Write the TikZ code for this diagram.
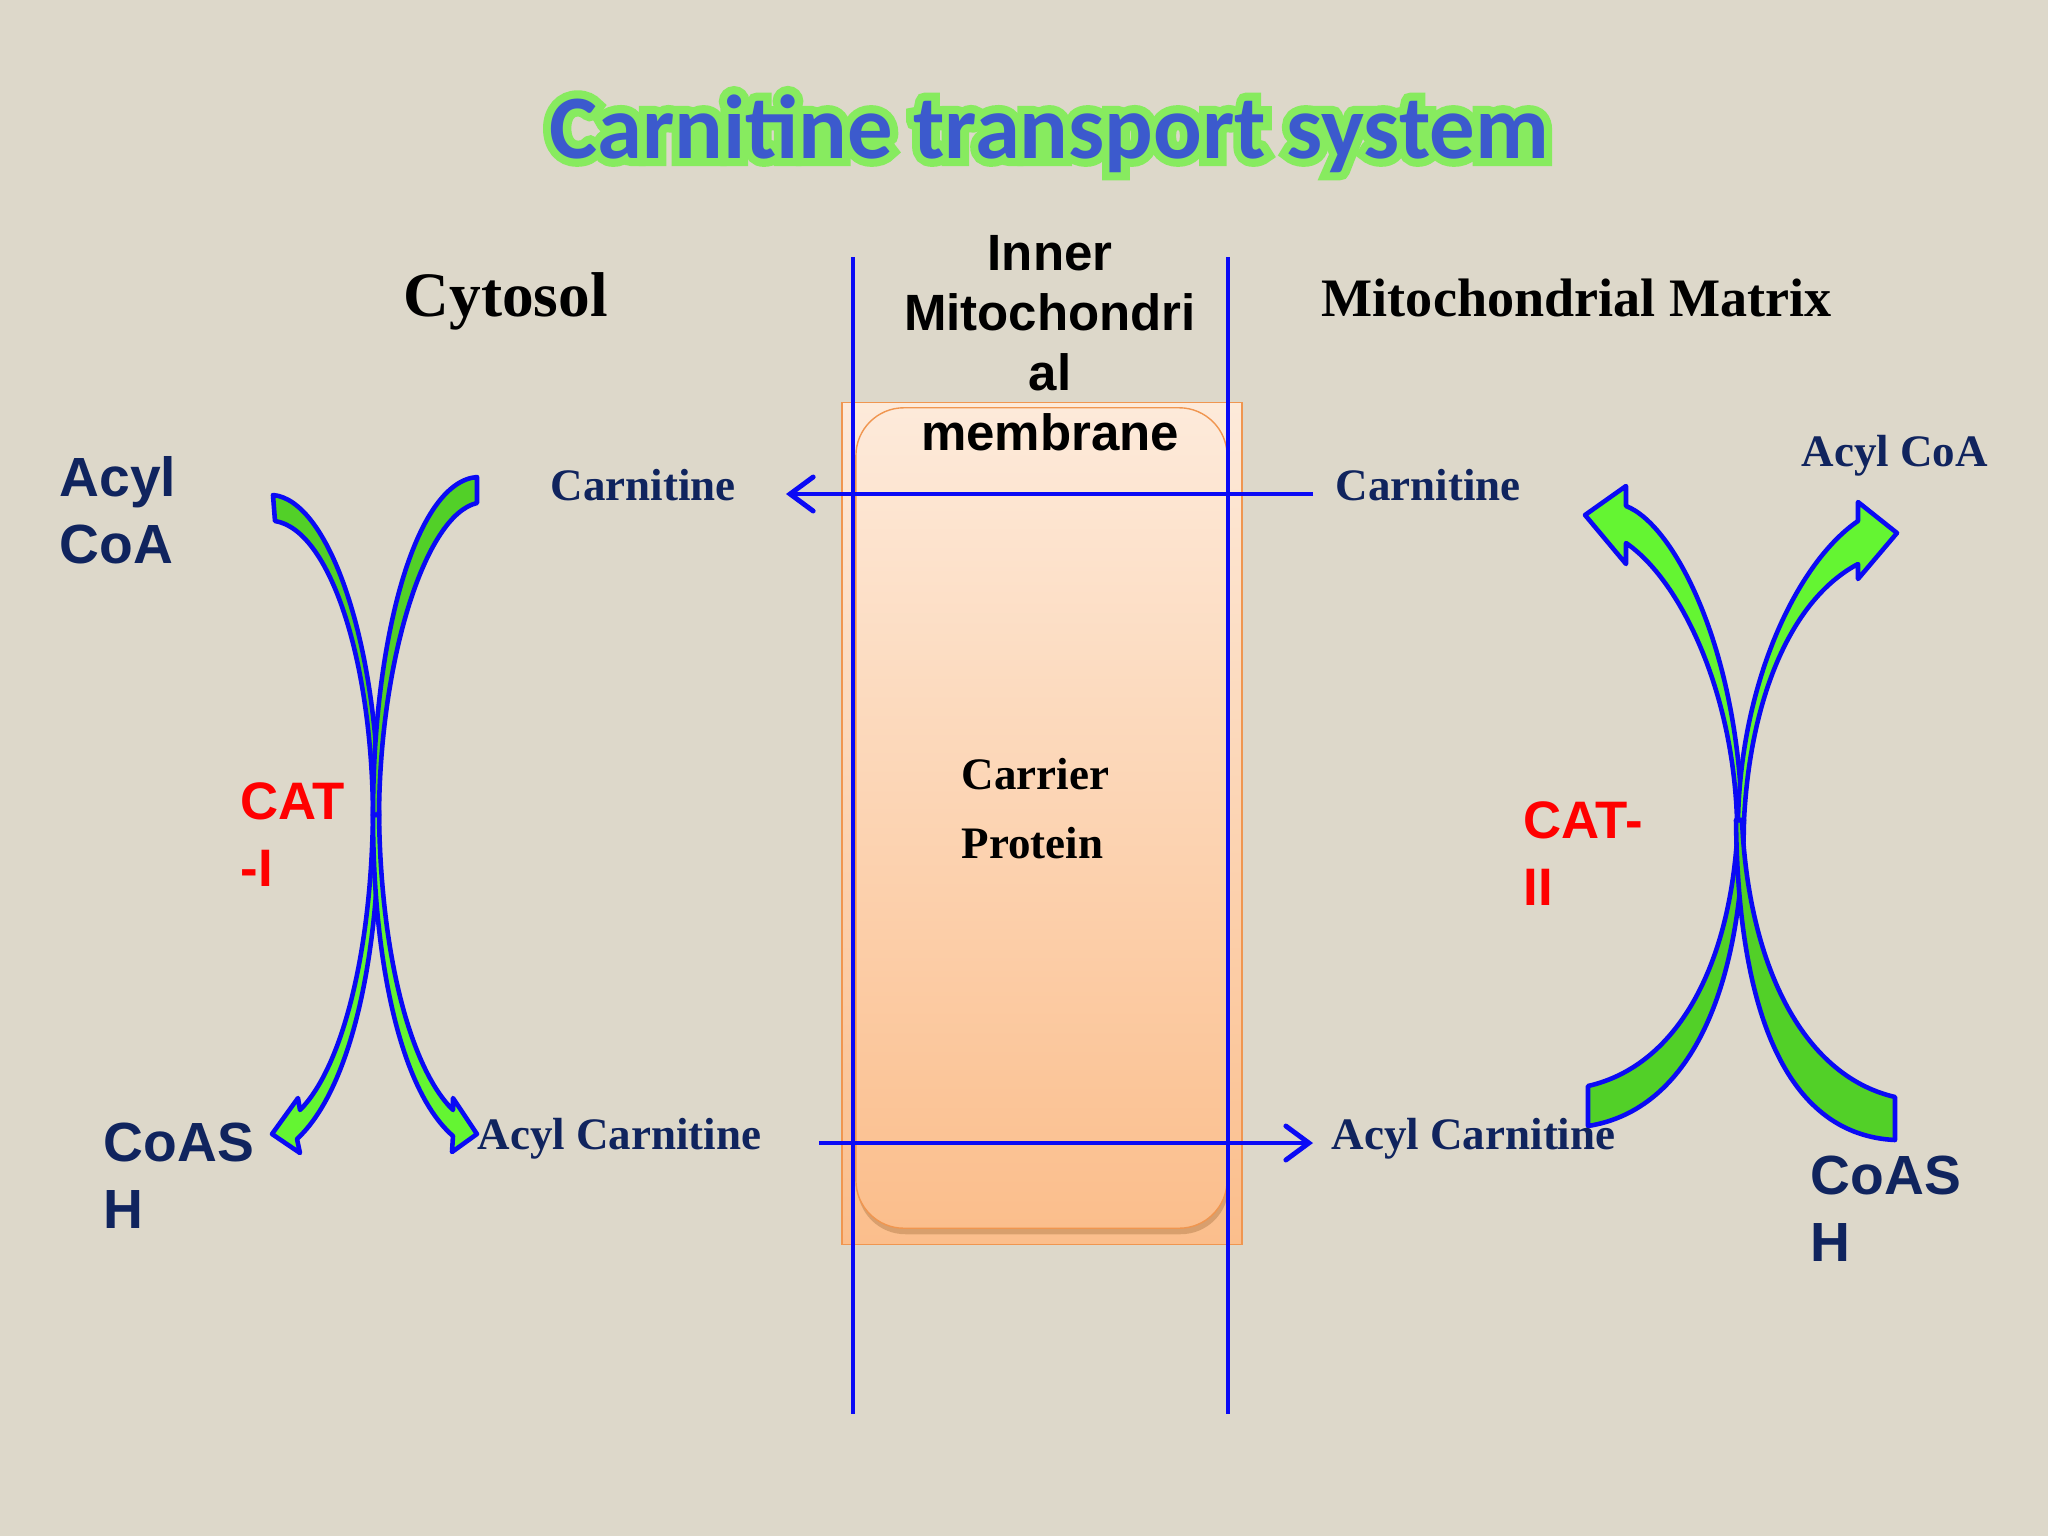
\documentclass[tikz,border=0pt]{standalone}
\usepackage{fontspec}
\setmainfont{Liberation Serif}
\newfontfamily\sansbold{Liberation Sans}
\newfontfamily\titlefont{Carlito}
\newfontfamily\titleglowfont[FakeBold=18]{Carlito}
\usetikzlibrary{arrows.meta, positioning}

\definecolor{bgbeige}{RGB}{221,216,202}
\definecolor{navytext}{RGB}{16,36,94}
\definecolor{headgreen}{RGB}{100,245,50}
\definecolor{tailgreen}{RGB}{82,208,40}
\definecolor{bandblue}{RGB}{10,10,245}
\definecolor{boxedge}{RGB}{240,150,80}
\definecolor{boxtop}{RGB}{253,234,218}
\definecolor{boxbot}{RGB}{251,190,140}
\definecolor{titleblue}{RGB}{60,90,205}
\definecolor{titleglow}{RGB}{135,235,95}

\begin{document}
\begin{tikzpicture}[
  x=0.01cm, y=-0.01cm,
  region/.style={font=\bfseries\fontsize{18}{22}\selectfont, inner sep=0pt, anchor=base west},
  mol/.style={font=\bfseries\fontsize{12.8}{15}\selectfont, text=navytext, inner sep=0pt, anchor=base west},
  sidemol/.style={font=\sansbold\bfseries\fontsize{15.7}{19}\selectfont, text=navytext, align=left, inner sep=0pt, anchor=base west},
  enzyme/.style={font=\sansbold\bfseries\fontsize{15}{19}\selectfont, text=red, align=left, inner sep=0pt, anchor=base west},
  band/.style={draw=bandblue, line width=1.3pt, fill=tailgreen, line join=round},
  headband/.style={band, fill=headgreen},
  membrane/.style={draw=bandblue, line width=1.4pt},
  flow/.style={draw=bandblue, line width=1.4pt, -{Straight Barb[length=2.3mm, width=3.4mm, line cap=round]}}
]

% background
\fill[bgbeige] (0,0) rectangle (2048,1536);
\useasboundingbox (0,0) rectangle (2048,1536);

% title with glow
\node[font=\titleglowfont\bfseries\fontsize{25.8}{30}\selectfont, text=titleglow, inner sep=0pt, anchor=base] (glow) at (1049,158) {Carnitine transport system};
\node[font=\titlefont\bfseries\fontsize{25.8}{30}\selectfont, text=titleblue, inner sep=0pt, anchor=base] (title) at (1049,158) {Carnitine transport system};

% compartments
\node[region] (cytosol) at (403,316) {Cytosol};
\node[region, font=\bfseries\fontsize{15.4}{18}\selectfont] (matrix) at (1321,316) {Mitochondrial Matrix};

% carrier protein in the membrane
\node[draw=boxedge, top color=boxtop, bottom color=boxbot, minimum width=4cm, minimum height=8.41cm, inner sep=0pt] (frame) at (1042,823.5) {};
\node[fill=brown!80!black, opacity=0.35, rounded corners=0.48cm, minimum width=3.71cm, minimum height=8.2cm, inner sep=0pt] (shade) at (1043,824) {};
\node[draw=boxedge, top color=boxtop, bottom color=boxbot, rounded corners=0.48cm, minimum width=3.71cm, minimum height=8.2cm, inner sep=0pt] (protein) at (1041.5,818) {};
\node[mol, text=black, align=left, font=\bfseries\fontsize{12.8}{19.4}\selectfont] (carrier) at (961,858) {Carrier\\Protein};

\node[font=\sansbold\bfseries\fontsize{14.5}{17}\selectfont, align=center, inner sep=0pt, anchor=base] (memlabel) at (1050,450) {Inner\\Mitochondri\\al\\membrane};

% membrane borders
\draw[membrane] (853,257) -- (853,1414);
\draw[membrane] (1228,257) -- (1228,1414);

% transport across
\coordinate (carnin) at (1313,494);
\coordinate (carnout) at (786,494);
\draw[flow] (carnin) -- (carnout);
\coordinate (acylin) at (819,1143);
\coordinate (acylout) at (1313,1143);
\draw[flow] (acylin) -- (acylout);

% CAT-I
\path[band] (273,495) .. controls (328,500) and (378,640) .. (379,815)
  -- (373,815) .. controls (372,660) and (330,530) .. (275,521) -- cycle;
\path[band] (477,477) .. controls (415,482) and (373,640) .. (373,815)
  -- (379,815) .. controls (380,660) and (425,515) .. (477,503) -- cycle;
\path[headband] (373,815) .. controls (371,960) and (340,1070) .. (300,1110)
  -- (298,1098) -- (272,1134) -- (300,1153) -- (297,1139)
  .. controls (350,1090) and (379,960) .. (379,815) -- cycle;
\path[headband] (379,815) .. controls (381,960) and (412,1070) .. (453,1110)
  -- (453,1098) -- (477,1134) -- (452,1152) -- (453,1136)
  .. controls (400,1090) and (373,960) .. (373,815) -- cycle;

% CAT-II
\path[band] (1738,820) .. controls (1733,960) and (1680,1065) .. (1588,1086)
  -- (1588,1126) .. controls (1690,1110) and (1742,990) .. (1744,820) -- cycle;
\path[band] (1742,820) .. controls (1748,960) and (1800,1075) .. (1895,1097)
  -- (1895,1140) .. controls (1790,1135) and (1738,1020) .. (1736,820) -- cycle;
\path[headband] (1742,820) .. controls (1738,650) and (1675,525) .. (1626,506)
  -- (1626,486) -- (1585,515) -- (1626,564) -- (1626,543)
  .. controls (1680,580) and (1733,690) .. (1737,820) -- cycle;
\path[headband] (1738,820) .. controls (1741,680) and (1798,562) .. (1858,521)
  -- (1858,502) -- (1897,533) -- (1858,579) -- (1858,564)
  .. controls (1790,600) and (1750,700) .. (1744,820) -- cycle;

% molecules
\node[mol] (carnL) at (550,500) {Carnitine};
\node[mol] (carnR) at (1335,500) {Carnitine};
\node[mol] (acarnL) at (477,1149) {Acyl Carnitine};
\node[mol] (acarnR) at (1331,1149) {Acyl Carnitine};
\node[mol] (acoaR) at (1801,466) {Acyl CoA};

\node[sidemol] (acoaL) at (59,563) {Acyl\\CoA};
\node[sidemol] (coashL) at (103,1228) {CoAS\\H};
\node[sidemol] (coashR) at (1810,1261) {CoAS\\H};

\node[enzyme] (cat1) at (240,886) {CAT\\-I};
\node[enzyme] (cat2) at (1523,905) {CAT-\\II};

\end{tikzpicture}
\end{document}
